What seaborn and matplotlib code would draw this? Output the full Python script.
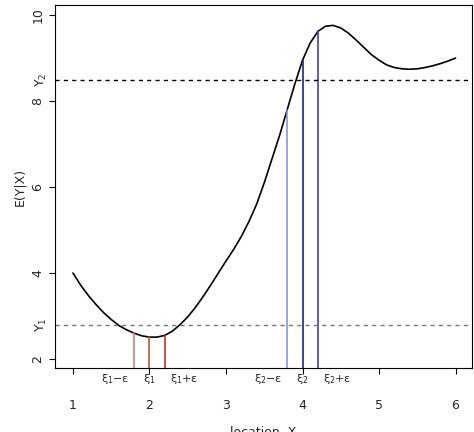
import numpy as np
import pandas as pd
import matplotlib
matplotlib.use("Agg")
import matplotlib.pyplot as plt
import seaborn as sns

sns.set_style("white")
plt.rcParams['font.family'] = ['DejaVu Sans']

curve_x = [1.0, 1.1, 1.2, 1.3, 1.4, 1.5, 1.6, 1.7, 1.8, 1.9, 2.0, 2.1, 2.2, 2.3, 2.4, 2.5, 2.6, 2.7, 2.8, 2.9, 3.0,
           3.1, 3.2, 3.3, 3.4, 3.5, 3.6, 3.7, 3.8, 3.9, 4.0, 4.1, 4.2, 4.3, 4.4, 4.5, 4.6, 4.7, 4.8, 4.9, 5.0,
           5.1, 5.2, 5.3, 5.4, 5.5, 5.6, 5.7, 5.8, 5.9, 6.0]
curve_y = [4.0, 3.72, 3.48, 3.27, 3.08, 2.92, 2.78, 2.68, 2.6, 2.54, 2.51, 2.51, 2.55, 2.65, 2.8, 2.98, 3.2, 3.45, 3.72, 4.0, 4.28,
           4.55, 4.85, 5.2, 5.6, 6.1, 6.65, 7.2, 7.8, 8.4, 8.95, 9.35, 9.62, 9.74, 9.76, 9.7, 9.58, 9.42, 9.25, 9.08, 8.95,
           8.84, 8.78, 8.75, 8.74, 8.75, 8.78, 8.82, 8.87, 8.93, 9.0]
xi_x = [1.8, 2.0, 2.2, 3.8, 4.0, 4.2]
xi_top = [2.6, 2.51, 2.55, 7.8, 8.95, 9.62]
xi_colors = ["#e07a7a", "#c84b4b", "#c83030", "#8f8fef", "#1f1f9f", "#3f3fcf"]
xi_labels = ["ξ$_1$−ε", "ξ$_1$", "ξ$_1$+ε", "ξ$_2$−ε", "ξ$_2$", "ξ$_2$+ε"]
y_levels = [2.8, 8.5]
y_labels = ["Y$_1$", "Y$_2$"]

fig = plt.figure(figsize=(4.74, 4.32), dpi=100)
ax = fig.add_axes([0.116, 0.148, 0.879, 0.840])
df = pd.DataFrame({"x": curve_x, "y": curve_y})
sns.lineplot(data=df, x="x", y="y", color="black", lw=1.2, ax=ax)
ymin = 1.79
ax.set_xlim(0.765, 6.21)
ax.set_ylim(ymin, 10.23)
for x, t, c in zip(xi_x, xi_top, xi_colors):
    ax.plot([x, x], [ymin, t], color=c, lw=1.2)
ax.axhline(y_levels[0], color="#777777", ls=(0, (3, 3)), lw=1)
ax.axhline(y_levels[1], color="black", ls=(0, (3, 3)), lw=1)
for yv, lab in zip(y_levels, y_labels):
    ax.text(-0.015, yv, lab, transform=ax.get_yaxis_transform(), rotation=90,
            ha="right", va="center", fontsize=9)
offs = [-0.07, 0.0, 0.07]
has = ["right", "center", "left"]
for i, (x, lab) in enumerate(zip(xi_x, xi_labels)):
    ax.text(x + offs[i % 3], -0.012, lab, transform=ax.get_xaxis_transform(),
            ha=has[i % 3], va="top", fontsize=8)
ax.set_xticks([1, 2, 3, 4, 5, 6])
ax.set_yticks([2, 4, 6, 8, 10])
ax.tick_params(axis="both", direction="out", length=4, labelsize=9, left=True, bottom=True, color="black")
ax.tick_params(axis="x", pad=18)
for lab in ax.get_yticklabels():
    lab.set_rotation(90); lab.set_va("center")
ax.set_xlabel("location, X", fontsize=9, labelpad=10)
ax.set_ylabel("E(Y|X)", fontsize=9)
for s in ax.spines.values():
    s.set_color("black"); s.set_linewidth(0.8)
fig.savefig("out.png", dpi=100)
